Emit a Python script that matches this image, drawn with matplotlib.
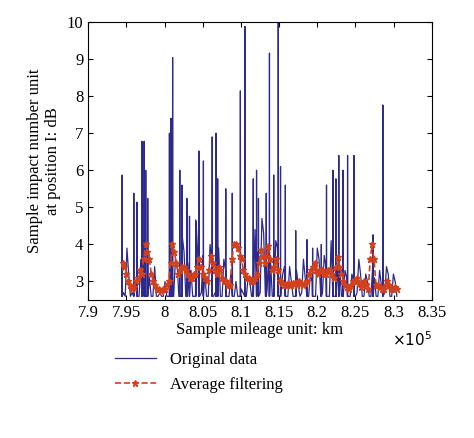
import numpy as np
import matplotlib
matplotlib.use("Agg")
import matplotlib.pyplot as plt

plt.rcParams['font.family'] = ['Liberation Serif', 'DejaVu Serif']

# spikes of original data (mileage in 1e5 km, dB)
spike_x = [7.9445, 7.9598, 7.9640, 7.9704, 7.9733, 7.9754, 7.9780, 8.0064, 8.0085, 8.0106,
           8.0200, 8.0229, 8.0293, 8.0327, 8.0408, 8.0450, 8.0509, 8.0624, 8.0675, 8.0696,
           8.0802, 8.0887, 8.0993, 8.1052, 8.1162, 8.1205, 8.1230, 8.1332, 8.1374, 8.1430,
           8.1489, 8.1519, 8.1582, 8.1718, 8.1866, 8.1939, 8.2053, 8.2121, 8.2206, 8.2244,
           8.2282, 8.2337, 8.2397, 8.2481, 8.2731, 8.2859]
spike_y = [5.87, 5.38, 5.14, 6.78, 6.78, 6.0, 5.24, 7.0, 7.4, 9.04,
           6.0, 5.6, 5.24, 4.76, 4.66, 6.52, 6.25, 6.9, 7.0, 5.77,
           5.5, 5.38, 8.14, 9.88, 5.77, 6.0, 5.24, 5.38, 9.16, 5.87,
           9.97, 6.1, 5.6, 4.37, 4.13, 3.9, 4.0, 5.6, 6.0, 5.77,
           6.4, 6.0, 6.4, 6.4, 4.26, 7.76]
# baseline fluctuation of original data (two interleaved readings)
base_a = [3.6, 2.6, 3.2, 2.7, 3.0, 2.6, 3.4, 2.6, 3.1, 2.6, 2.6, 2.7, 2.6, 2.6, 2.9, 2.6,
          3.5, 2.6, 3.8, 2.7, 3.3, 2.6, 3.6, 2.7, 3.2, 2.6, 3.5, 2.7, 3.9, 2.6, 3.3, 2.6,
          2.6, 3.0, 2.6, 2.7, 2.6, 3.0, 2.6, 3.8, 2.7, 4.3, 2.8, 3.5, 2.6, 3.9, 2.7, 3.4,
          2.6, 3.0, 2.6, 2.9, 2.7, 3.1, 2.6, 3.0, 2.6, 3.6, 2.7, 3.4, 2.6, 3.8, 2.7, 3.3,
          2.6, 3.1, 2.6, 3.0, 2.7, 3.2, 2.6, 3.0, 2.6, 3.1, 2.6, 2.9, 2.7, 3.2, 2.6, 3.0]
base_b = [2.7, 3.9, 2.6, 3.3, 2.6, 3.6, 2.7, 3.0, 2.6, 3.4, 2.6, 2.6, 3.0, 2.6, 2.6, 3.6,
          2.6, 4.2, 2.6, 3.5, 2.6, 4.6, 2.6, 3.7, 2.6, 4.0, 2.6, 4.4, 2.6, 3.6, 2.6, 3.2,
          2.6, 2.6, 2.8, 2.6, 3.1, 2.6, 4.4, 2.6, 4.7, 2.6, 3.9, 2.6, 4.1, 2.6, 3.2, 2.6,
          3.4, 2.6, 3.3, 2.6, 3.6, 2.6, 3.2, 2.6, 3.9, 2.6, 3.7, 2.6, 4.1, 2.6, 3.5, 2.6,
          3.3, 2.6, 3.2, 2.6, 3.6, 2.6, 3.2, 2.6, 3.4, 2.6, 3.3, 2.6, 3.4, 2.6, 3.2, 2.6]
# average filtering
avg_y = [3.5, 3.2, 2.9, 2.85, 3.1, 3.2, 4.0, 3.6, 3.0, 2.8, 2.75, 2.8, 3.0, 4.0, 3.5, 3.3,
         3.4, 3.2, 3.1, 3.2, 3.6, 3.2, 3.0, 3.7, 3.3, 3.4, 3.1, 3.0, 2.9, 4.0, 3.9, 3.6,
         3.2, 3.1, 3.0, 3.2, 3.85, 3.5, 3.95, 3.3, 3.6, 3.0, 2.9, 2.95, 2.9, 2.95, 3.0, 2.9,
         3.0, 3.3, 3.5, 3.2, 3.3, 3.2, 3.3, 3.1, 3.65, 3.2, 2.9, 2.8, 3.0, 3.1, 2.85, 3.0,
         2.8, 4.0, 2.9, 2.85, 2.8, 3.0, 2.8, 2.85]
avg_b = [3.4, 3.0, 2.8, 3.0, 3.3, 3.6, 3.8, 3.2, 2.9, 2.8, 2.8, 2.9, 3.5, 3.8, 3.2, 3.4,
         3.3, 3.1, 3.2, 3.4, 3.4, 3.1, 3.3, 3.5, 3.2, 3.3, 3.0, 2.9, 3.6, 4.0, 3.7, 3.3,
         3.1, 3.0, 3.1, 3.5, 3.7, 3.7, 3.6, 3.4, 3.3, 2.95, 2.9, 2.9, 2.95, 2.9, 2.95, 2.95,
         3.2, 3.4, 3.3, 3.3, 3.2, 3.3, 3.2, 3.4, 3.4, 3.0, 2.85, 2.9, 3.0, 2.95, 2.9, 2.9,
         3.6, 3.6, 2.9, 2.8, 2.9, 2.9, 2.8, 2.8]

xa = np.linspace(7.944, 8.302, len(base_a))
step = xa[1] - xa[0]
bx = list(xa) + list(xa + step / 2)
by = base_a + base_b
for sx, sy in zip(spike_x, spike_y):
    bx += [sx - 0.0002, sx, sx + 0.0002]
    by += [2.6, sy, 2.6]
order = np.argsort(bx)
ox = np.array(bx)[order] * 1e5
oy = np.array(by)[order]

ax_a = np.linspace(7.945, 8.302, len(avg_y))
astep = ax_a[1] - ax_a[0]
apx = np.concatenate([ax_a, ax_a + astep / 2])
apy = np.concatenate([avg_y, avg_b])
o2 = np.argsort(apx)
avg_x = apx[o2] * 1e5
avg_v = apy[o2]

fig = plt.figure(figsize=(4.74, 4.38), dpi=100)
ax = fig.add_axes([0.186, 0.315, 0.725, 0.635])
l1, = ax.plot(ox, oy, color='#2e2a8c', lw=0.9, label='Original data')
l2, = ax.plot(avg_x, avg_v, color='#d2401c', lw=1.2, ls='--', marker='*', ms=5,
              label='Average filtering')
ax.set_xlim(7.9e5, 8.35e5)
ax.set_ylim(2.5, 10)
ax.set_xticks(np.arange(7.9e5, 8.351e5, 0.05e5))
ax.set_xticklabels(['7.9', '7.95', '8', '8.05', '8.1', '8.15', '8.2', '8.25', '8.3', '8.35'])
ax.set_yticks(np.arange(3, 10.1, 1))
ax.tick_params(labelsize=12, direction='in', top=True, right=True)
ax.text(1.0, -0.11, r'$\times10^5$', transform=ax.transAxes, ha='right', va='top', fontsize=11)
ax.set_xlabel('Sample mileage unit: km', fontsize=12, labelpad=1)
ax.set_ylabel('Sample impact number unit\nat position I: dB', fontsize=12)
fig.legend(handles=[l1, l2], loc='upper left', bbox_to_anchor=(0.21, 0.23), frameon=False,
           fontsize=12, handlelength=2.5)
fig.savefig('out.png', dpi=100)
